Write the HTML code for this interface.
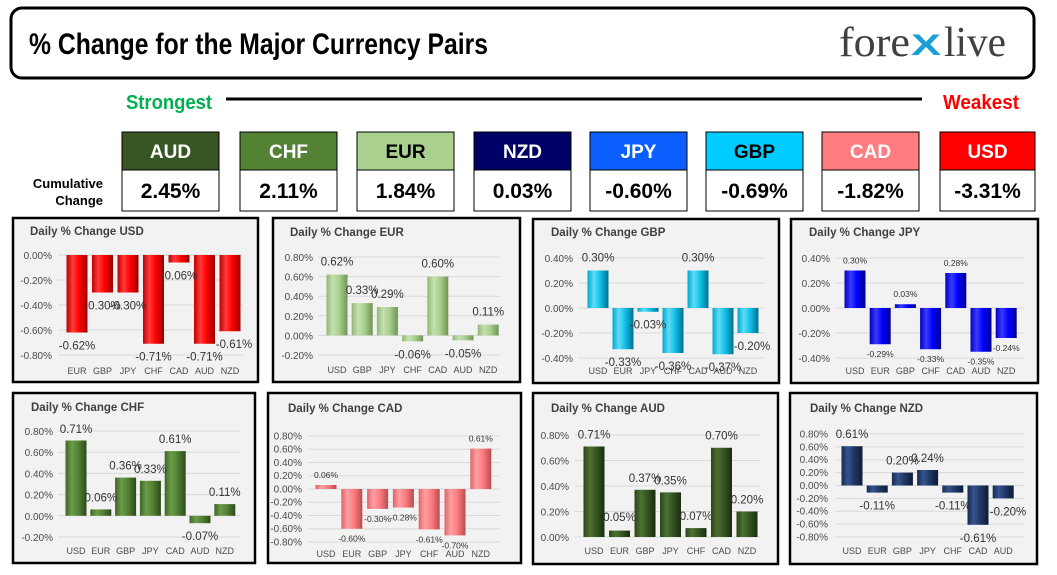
<!DOCTYPE html>
<html><head><meta charset="utf-8"><style>
html,body{margin:0;padding:0;background:#fff;}
svg{display:block;}
.t{font-family:"Liberation Sans Narrow","Liberation Sans",sans-serif;font-weight:bold;}
.tick{font-family:"Liberation Sans",sans-serif;font-size:10px;fill:#4a4a4a;text-anchor:end;}
.cat{font-family:"Liberation Sans",sans-serif;font-size:9px;fill:#4a4a4a;text-anchor:middle;}
.dl{font-family:"Liberation Sans",sans-serif;font-size:11.5px;fill:#333;text-anchor:middle;}
.ds{font-family:"Liberation Sans",sans-serif;font-size:8.5px;fill:#333;text-anchor:middle;}
.ttl{font-family:"Liberation Sans",sans-serif;font-size:11.5px;font-weight:bold;fill:#404040;}
.g{stroke:#d9d9d9;stroke-width:1;}
.pn{fill:#f2f2f2;stroke:#000;stroke-width:2.5;}
</style></head><body>
<svg width="1057" height="575" viewBox="0 0 1057 575" xmlns="http://www.w3.org/2000/svg">
<defs>
<linearGradient id="red" x1="0" x2="1"><stop offset="0" stop-color="#c00000"/><stop offset="0.3" stop-color="#ff3a3a"/><stop offset="0.6" stop-color="#ff0000"/><stop offset="1" stop-color="#9a0000"/></linearGradient>
<linearGradient id="lg" x1="0" x2="1"><stop offset="0" stop-color="#8fb872"/><stop offset="0.3" stop-color="#c5e0b0"/><stop offset="0.6" stop-color="#a9d08e"/><stop offset="1" stop-color="#6f9455"/></linearGradient>
<linearGradient id="cy" x1="0" x2="1"><stop offset="0" stop-color="#00a8d0"/><stop offset="0.3" stop-color="#60dcf6"/><stop offset="0.6" stop-color="#10c0e8"/><stop offset="1" stop-color="#00708c"/></linearGradient>
<linearGradient id="bl" x1="0" x2="1"><stop offset="0" stop-color="#0000c0"/><stop offset="0.3" stop-color="#3a3aff"/><stop offset="0.6" stop-color="#0000ff"/><stop offset="1" stop-color="#00008a"/></linearGradient>
<linearGradient id="mg" x1="0" x2="1"><stop offset="0" stop-color="#3e6526"/><stop offset="0.3" stop-color="#6a9c48"/><stop offset="0.6" stop-color="#548235"/><stop offset="1" stop-color="#2c4a1a"/></linearGradient>
<linearGradient id="pk" x1="0" x2="1"><stop offset="0" stop-color="#e06268"/><stop offset="0.3" stop-color="#ffa0a4"/><stop offset="0.6" stop-color="#ff7c80"/><stop offset="1" stop-color="#b84c50"/></linearGradient>
<linearGradient id="dg" x1="0" x2="1"><stop offset="0" stop-color="#2a4418"/><stop offset="0.3" stop-color="#4d7031"/><stop offset="0.6" stop-color="#375623"/><stop offset="1" stop-color="#1a2c0e"/></linearGradient>
<linearGradient id="nv" x1="0" x2="1"><stop offset="0" stop-color="#172a50"/><stop offset="0.3" stop-color="#35548e"/><stop offset="0.6" stop-color="#1f3864"/><stop offset="1" stop-color="#0e1a34"/></linearGradient>
</defs>

<!-- header -->
<rect x="11" y="8" width="1023" height="70" rx="11" fill="#fff" stroke="#000" stroke-width="3"/>
<text x="29" y="54" class="t" font-size="30" textLength="459" lengthAdjust="spacingAndGlyphs" fill="#000">% Change for the Major Currency Pairs</text>
<text x="839" y="56" font-family="'Liberation Serif',serif" font-size="42" fill="#404040" textLength="71" lengthAdjust="spacingAndGlyphs">fore</text>
<text x="911" y="55" font-family="'Liberation Sans',sans-serif" font-size="30" font-weight="bold" fill="#1a9fd6" textLength="30" lengthAdjust="spacingAndGlyphs">X</text>
<text x="944" y="56" font-family="'Liberation Serif',serif" font-size="42" fill="#404040" textLength="62" lengthAdjust="spacingAndGlyphs">live</text>

<text x="126" y="109" class="t" font-size="20" fill="#00b050" textLength="86" lengthAdjust="spacingAndGlyphs">Strongest</text>
<line x1="226" y1="99" x2="922" y2="99" stroke="#000" stroke-width="3"/>
<text x="943" y="109" class="t" font-size="20" fill="#ff0000" textLength="76" lengthAdjust="spacingAndGlyphs">Weakest</text>

<text x="103" y="188" class="t" font-size="13" text-anchor="end" fill="#000">Cumulative</text>
<text x="103" y="205" class="t" font-size="13" text-anchor="end" fill="#000">Change</text>

<g stroke="#000" stroke-width="1">
<rect x="122" y="132" width="97" height="38" fill="#375623"/><rect x="122" y="170" width="97" height="41" fill="#fff"/>
<rect x="240" y="132" width="97" height="38" fill="#548235"/><rect x="240" y="170" width="97" height="41" fill="#fff"/>
<rect x="357" y="132" width="97" height="38" fill="#a9d08e"/><rect x="357" y="170" width="97" height="41" fill="#fff"/>
<rect x="474" y="132" width="97" height="38" fill="#000066"/><rect x="474" y="170" width="97" height="41" fill="#fff"/>
<rect x="590" y="132" width="97" height="38" fill="#0b5fff"/><rect x="590" y="170" width="97" height="41" fill="#fff"/>
<rect x="706" y="132" width="97" height="38" fill="#00ccff"/><rect x="706" y="170" width="97" height="41" fill="#fff"/>
<rect x="822" y="132" width="97" height="38" fill="#ff7c80"/><rect x="822" y="170" width="97" height="41" fill="#fff"/>
<rect x="940" y="132" width="95" height="38" fill="#ff0000"/><rect x="940" y="170" width="95" height="41" fill="#fff"/>
</g>
<g class="t" font-size="19" text-anchor="middle">
<text x="170.5" y="158" fill="#fff">AUD</text><text x="288.5" y="158" fill="#fff">CHF</text><text x="405.5" y="158" fill="#000">EUR</text><text x="522.5" y="158" fill="#fff">NZD</text>
<text x="638.5" y="158" fill="#fff">JPY</text><text x="754.5" y="158" fill="#000">GBP</text><text x="870.5" y="158" fill="#fff">CAD</text><text x="987.5" y="158" fill="#fff">USD</text>
</g>
<g class="t" font-size="21" text-anchor="middle" fill="#000">
<text x="170.5" y="198">2.45%</text><text x="288.5" y="198">2.11%</text><text x="405.5" y="198">1.84%</text><text x="522.5" y="198">0.03%</text>
<text x="638.5" y="198">-0.60%</text><text x="754.5" y="198">-0.69%</text><text x="870.5" y="198">-1.82%</text><text x="987.5" y="198">-3.31%</text>
</g>

<!-- Chart 1 USD -->
<rect class="pn" x="13" y="218" width="245" height="164"/>
<text class="ttl" x="30" y="235">Daily % Change USD</text>
<g class="g"><line x1="58" x2="243" y1="255" y2="255"/><line x1="58" x2="243" y1="280" y2="280"/><line x1="58" x2="243" y1="305" y2="305"/><line x1="58" x2="243" y1="330" y2="330"/><line x1="58" x2="243" y1="355" y2="355"/></g>
<text class="tick" x="52" y="259">0.00%</text><text class="tick" x="52" y="284">-0.20%</text><text class="tick" x="52" y="309">-0.40%</text><text class="tick" x="52" y="334">-0.60%</text><text class="tick" x="52" y="359">-0.80%</text>
<g fill="url(#red)"><rect x="66.5" y="255" width="21" height="77.5"/><rect x="92" y="255" width="21" height="37.5"/><rect x="117.5" y="255" width="21" height="37.5"/><rect x="143" y="255" width="21" height="88.75"/><rect x="168.5" y="255" width="21" height="7.5"/><rect x="194" y="255" width="21" height="88.75"/><rect x="219.5" y="255" width="21" height="76.25"/></g>
<text class="dl" x="77" y="349.5">-0.62%</text><text class="dl" x="102.5" y="309.5">-0.30%</text><text class="dl" x="128" y="309.5">-0.30%</text><text class="dl" x="153.5" y="360.7">-0.71%</text><text class="dl" x="179" y="279.5">-0.06%</text><text class="dl" x="204.5" y="360.7">-0.71%</text><text class="dl" x="234" y="348.2">-0.61%</text>
<text class="cat" x="77" y="374">EUR</text><text class="cat" x="102.5" y="374">GBP</text><text class="cat" x="128" y="374">JPY</text><text class="cat" x="153.5" y="374">CHF</text><text class="cat" x="179" y="374">CAD</text><text class="cat" x="204.5" y="374">AUD</text><text class="cat" x="230" y="374">NZD</text>

<!-- Chart 2 EUR -->
<rect class="pn" x="273" y="218" width="247" height="164"/>
<text class="ttl" x="290" y="236">Daily % Change EUR</text>
<g class="g"><line x1="318" x2="500" y1="257" y2="257"/><line x1="318" x2="500" y1="276.6" y2="276.6"/><line x1="318" x2="500" y1="296.2" y2="296.2"/><line x1="318" x2="500" y1="315.8" y2="315.8"/><line x1="318" x2="500" y1="335.4" y2="335.4"/><line x1="318" x2="500" y1="355" y2="355"/></g>
<text class="tick" x="313" y="261">0.80%</text><text class="tick" x="313" y="280.6">0.60%</text><text class="tick" x="313" y="300.2">0.40%</text><text class="tick" x="313" y="319.8">0.20%</text><text class="tick" x="313" y="339.4">0.00%</text><text class="tick" x="313" y="359">-0.20%</text>
<g fill="url(#lg)"><rect x="326.5" y="274.6" width="21" height="60.8"/><rect x="351.7" y="303.1" width="21" height="32.3"/><rect x="376.9" y="307" width="21" height="28.4"/><rect x="402.1" y="335.4" width="21" height="5.9"/><rect x="427.3" y="276.6" width="21" height="58.8"/><rect x="452.5" y="335.4" width="21" height="4.9"/><rect x="477.7" y="324.6" width="21" height="10.8"/></g>
<text class="dl" x="337" y="265.6">0.62%</text><text class="dl" x="362.2" y="294.1">0.33%</text><text class="dl" x="387.4" y="298">0.29%</text><text class="dl" x="412.6" y="358.3">-0.06%</text><text class="dl" x="437.8" y="267.6">0.60%</text><text class="dl" x="463" y="357.3">-0.05%</text><text class="dl" x="488.2" y="315.6">0.11%</text>
<text class="cat" x="337" y="373">USD</text><text class="cat" x="362.2" y="373">GBP</text><text class="cat" x="387.4" y="373">JPY</text><text class="cat" x="412.6" y="373">CHF</text><text class="cat" x="437.8" y="373">CAD</text><text class="cat" x="463" y="373">AUD</text><text class="cat" x="488.2" y="373">NZD</text>

<!-- Chart 3 GBP -->
<rect class="pn" x="533" y="219" width="246" height="164"/>
<text class="ttl" x="551" y="236">Daily % Change GBP</text>
<g class="g"><line x1="578" x2="765" y1="258" y2="258"/><line x1="578" x2="765" y1="283" y2="283"/><line x1="578" x2="765" y1="308" y2="308"/><line x1="578" x2="765" y1="333" y2="333"/><line x1="578" x2="765" y1="358" y2="358"/></g>
<text class="tick" x="573" y="262">0.40%</text><text class="tick" x="573" y="287">0.20%</text><text class="tick" x="573" y="312">0.00%</text><text class="tick" x="573" y="337">-0.20%</text><text class="tick" x="573" y="362">-0.40%</text>
<g fill="url(#cy)"><rect x="587.5" y="270.5" width="21" height="37.5"/><rect x="612.5" y="308" width="21" height="41.25"/><rect x="637.5" y="308" width="21" height="3.75"/><rect x="662.5" y="308" width="21" height="45"/><rect x="687.5" y="270.5" width="21" height="37.5"/><rect x="712.5" y="308" width="21" height="46.25"/><rect x="737.5" y="308" width="21" height="25"/></g>
<text class="cat" x="598" y="374">USD</text><text class="cat" x="623" y="374">EUR</text><text class="cat" x="648" y="374">JPY</text><text class="cat" x="673" y="374">CHF</text><text class="cat" x="698" y="374">CAD</text><text class="cat" x="723" y="374">AUD</text><text class="cat" x="748" y="374">NZD</text>
<text class="dl" x="598" y="261.5">0.30%</text><text class="dl" x="623" y="366.2">-0.33%</text><text class="dl" x="648" y="328.7">-0.03%</text><text class="dl" x="673" y="370">-0.36%</text><text class="dl" x="698" y="261.5">0.30%</text><text class="dl" x="723" y="371.2">-0.37%</text><text class="dl" x="752" y="350">-0.20%</text>

<!-- Chart 4 JPY -->
<rect class="pn" x="791" y="219" width="247" height="164"/>
<text class="ttl" x="809" y="236">Daily % Change JPY</text>
<g class="g"><line x1="835" x2="1025" y1="258" y2="258"/><line x1="835" x2="1025" y1="283" y2="283"/><line x1="835" x2="1025" y1="308" y2="308"/><line x1="835" x2="1025" y1="333" y2="333"/><line x1="835" x2="1025" y1="358" y2="358"/></g>
<text class="tick" x="830" y="262">0.40%</text><text class="tick" x="830" y="287">0.20%</text><text class="tick" x="830" y="312">0.00%</text><text class="tick" x="830" y="337">-0.20%</text><text class="tick" x="830" y="362">-0.40%</text>
<g fill="url(#bl)"><rect x="844.5" y="270.5" width="21" height="37.5"/><rect x="869.7" y="308" width="21" height="36.25"/><rect x="894.9" y="304.25" width="21" height="3.75"/><rect x="920.1" y="308" width="21" height="41.25"/><rect x="945.3" y="273" width="21" height="35"/><rect x="970.5" y="308" width="21" height="43.75"/><rect x="995.7" y="308" width="21" height="30"/></g>
<text class="ds" x="855" y="263.5">0.30%</text><text class="ds" x="880.2" y="357.2">-0.29%</text><text class="ds" x="905.4" y="297.2">0.03%</text><text class="ds" x="930.6" y="362.2">-0.33%</text><text class="ds" x="955.8" y="266">0.28%</text><text class="ds" x="981" y="364.7">-0.35%</text><text class="ds" x="1006.2" y="351">-0.24%</text>
<text class="cat" x="855" y="374">USD</text><text class="cat" x="880.2" y="374">EUR</text><text class="cat" x="905.4" y="374">GBP</text><text class="cat" x="930.6" y="374">CHF</text><text class="cat" x="955.8" y="374">CAD</text><text class="cat" x="981" y="374">AUD</text><text class="cat" x="1006.2" y="374">NZD</text>

<!-- Chart 5 CHF -->
<rect class="pn" x="13" y="393" width="242" height="170"/>
<text class="ttl" x="31" y="411">Daily % Change CHF</text>
<g class="g"><line x1="58" x2="240" y1="431" y2="431"/><line x1="58" x2="240" y1="452.2" y2="452.2"/><line x1="58" x2="240" y1="473.4" y2="473.4"/><line x1="58" x2="240" y1="494.6" y2="494.6"/><line x1="58" x2="240" y1="515.8" y2="515.8"/><line x1="58" x2="240" y1="537" y2="537"/></g>
<text class="tick" x="53" y="435">0.80%</text><text class="tick" x="53" y="456.2">0.60%</text><text class="tick" x="53" y="477.4">0.40%</text><text class="tick" x="53" y="498.6">0.20%</text><text class="tick" x="53" y="519.8">0.00%</text><text class="tick" x="53" y="541">-0.20%</text>
<g fill="url(#mg)"><rect x="65.5" y="440.5" width="21" height="75.3"/><rect x="90.3" y="509.4" width="21" height="6.4"/><rect x="115.1" y="477.6" width="21" height="38.2"/><rect x="139.9" y="480.8" width="21" height="35"/><rect x="164.7" y="451.1" width="21" height="64.7"/><rect x="189.5" y="515.8" width="21" height="7.4"/><rect x="214.3" y="504.1" width="21" height="11.7"/></g>
<text class="dl" x="76" y="433">0.71%</text><text class="dl" x="100.8" y="501.4">0.06%</text><text class="dl" x="125.6" y="469.6">0.36%</text><text class="dl" x="150.4" y="472.8">0.33%</text><text class="dl" x="175.2" y="443.1">0.61%</text><text class="dl" x="200" y="540.2">-0.07%</text><text class="dl" x="224.8" y="496.1">0.11%</text>
<text class="cat" x="76" y="554">USD</text><text class="cat" x="100.8" y="554">EUR</text><text class="cat" x="125.6" y="554">GBP</text><text class="cat" x="150.4" y="554">JPY</text><text class="cat" x="175.2" y="554">CAD</text><text class="cat" x="200" y="554">AUD</text><text class="cat" x="224.8" y="554">NZD</text>

<!-- Chart 6 CAD -->
<rect class="pn" x="268" y="393" width="253" height="170"/>
<text class="ttl" x="288" y="412">Daily % Change CAD</text>
<g class="g"><line x1="308" x2="500" y1="436" y2="436"/><line x1="308" x2="500" y1="449.25" y2="449.25"/><line x1="308" x2="500" y1="462.5" y2="462.5"/><line x1="308" x2="500" y1="475.75" y2="475.75"/><line x1="308" x2="500" y1="489" y2="489"/><line x1="308" x2="500" y1="502.25" y2="502.25"/><line x1="308" x2="500" y1="515.5" y2="515.5"/><line x1="308" x2="500" y1="528.75" y2="528.75"/><line x1="308" x2="500" y1="542" y2="542"/></g>
<g style="font-size:9.5px"><text class="tick" x="302" y="439.5">0.80%</text><text class="tick" x="302" y="452.7">0.60%</text><text class="tick" x="302" y="466">0.40%</text><text class="tick" x="302" y="479.2">0.20%</text><text class="tick" x="302" y="492.5">0.00%</text><text class="tick" x="302" y="505.7">-0.20%</text><text class="tick" x="302" y="519">-0.40%</text><text class="tick" x="302" y="532.2">-0.60%</text><text class="tick" x="302" y="545.5">-0.80%</text></g>
<g fill="url(#pk)"><rect x="315.5" y="485" width="21" height="4"/><rect x="341.3" y="489" width="21" height="39.75"/><rect x="367.1" y="489" width="21" height="19.9"/><rect x="392.9" y="489" width="21" height="18.55"/><rect x="418.7" y="489" width="21" height="40.4"/><rect x="444.5" y="489" width="21" height="46.4"/><rect x="470.3" y="448.6" width="21" height="40.4"/></g>
<text class="ds" x="326" y="478">0.06%</text><text class="ds" x="351.8" y="541.7">-0.60%</text><text class="ds" x="377.6" y="521.9">-0.30%</text><text class="ds" x="403.4" y="520.6">-0.28%</text><text class="ds" x="429.2" y="542.4">-0.61%</text><text class="ds" x="455" y="548.4">-0.70%</text><text class="ds" x="480.8" y="441.6">0.61%</text>
<text class="cat" x="326" y="557">USD</text><text class="cat" x="351.8" y="557">EUR</text><text class="cat" x="377.6" y="557">GBP</text><text class="cat" x="403.4" y="557">JPY</text><text class="cat" x="429.2" y="557">CHF</text><text class="cat" x="455" y="557">AUD</text><text class="cat" x="480.8" y="557">NZD</text>

<!-- Chart 7 AUD -->
<rect class="pn" x="533" y="393" width="245" height="171"/>
<text class="ttl" x="551" y="412">Daily % Change AUD</text>
<g class="g"><line x1="575" x2="760" y1="435" y2="435"/><line x1="575" x2="760" y1="460.5" y2="460.5"/><line x1="575" x2="760" y1="486" y2="486"/><line x1="575" x2="760" y1="511.5" y2="511.5"/><line x1="575" x2="760" y1="537" y2="537"/></g>
<text class="tick" x="569" y="439">0.80%</text><text class="tick" x="569" y="464.5">0.60%</text><text class="tick" x="569" y="490">0.40%</text><text class="tick" x="569" y="515.5">0.20%</text><text class="tick" x="569" y="541">0.00%</text>
<g fill="url(#dg)"><rect x="583.5" y="446.5" width="21" height="90.5"/><rect x="609" y="530.6" width="21" height="6.4"/><rect x="634.5" y="489.8" width="21" height="47.2"/><rect x="660" y="492.4" width="21" height="44.6"/><rect x="685.5" y="528.1" width="21" height="8.9"/><rect x="711" y="447.75" width="21" height="89.25"/><rect x="736.5" y="511.5" width="21" height="25.5"/></g>
<text class="dl" x="594" y="438.5">0.71%</text><text class="dl" x="619.5" y="521">0.05%</text><text class="dl" x="645" y="481.8">0.37%</text><text class="dl" x="670.5" y="484.4">0.35%</text><text class="dl" x="696" y="520.1">0.07%</text><text class="dl" x="721.5" y="439.7">0.70%</text><text class="dl" x="747" y="503.5">0.20%</text>
<text class="cat" x="594" y="554">USD</text><text class="cat" x="619.5" y="554">EUR</text><text class="cat" x="645" y="554">GBP</text><text class="cat" x="670.5" y="554">JPY</text><text class="cat" x="696" y="554">CHF</text><text class="cat" x="721.5" y="554">CAD</text><text class="cat" x="747" y="554">NZD</text>

<!-- Chart 8 NZD -->
<rect class="pn" x="790" y="393" width="247" height="171"/>
<text class="ttl" x="810" y="412">Daily % Change NZD</text>
<g class="g"><line x1="835" x2="1025" y1="434" y2="434"/><line x1="835" x2="1025" y1="446.9" y2="446.9"/><line x1="835" x2="1025" y1="459.75" y2="459.75"/><line x1="835" x2="1025" y1="472.6" y2="472.6"/><line x1="835" x2="1025" y1="485.5" y2="485.5"/><line x1="835" x2="1025" y1="498.4" y2="498.4"/><line x1="835" x2="1025" y1="511.25" y2="511.25"/><line x1="835" x2="1025" y1="524.1" y2="524.1"/><line x1="835" x2="1025" y1="537" y2="537"/></g>
<g style="font-size:9.5px"><text class="tick" x="828" y="437.5">0.80%</text><text class="tick" x="828" y="450.4">0.60%</text><text class="tick" x="828" y="463.2">0.40%</text><text class="tick" x="828" y="476.1">0.20%</text><text class="tick" x="828" y="489">0.00%</text><text class="tick" x="828" y="501.9">-0.20%</text><text class="tick" x="828" y="514.7">-0.40%</text><text class="tick" x="828" y="527.6">-0.60%</text><text class="tick" x="828" y="540.5">-0.80%</text></g>
<g fill="url(#nv)"><rect x="841.5" y="446.2" width="21" height="39.3"/><rect x="866.7" y="485.5" width="21" height="7.1"/><rect x="891.9" y="472.6" width="21" height="12.9"/><rect x="917.1" y="470" width="21" height="15.5"/><rect x="942.3" y="485.5" width="21" height="7.1"/><rect x="967.5" y="485.5" width="21" height="39.3"/><rect x="992.7" y="485.5" width="21" height="12.9"/></g>
<text class="dl" x="852" y="438.2">0.61%</text><text class="dl" x="877.2" y="509.6">-0.11%</text><text class="dl" x="902.4" y="464.6">0.20%</text><text class="dl" x="927.6" y="462">0.24%</text><text class="dl" x="952.8" y="509.6">-0.11%</text><text class="dl" x="978" y="541.8">-0.61%</text><text class="dl" x="1008" y="515.4">-0.20%</text>
<text class="cat" x="852" y="554">USD</text><text class="cat" x="877.2" y="554">EUR</text><text class="cat" x="902.4" y="554">GBP</text><text class="cat" x="927.6" y="554">JPY</text><text class="cat" x="952.8" y="554">CHF</text><text class="cat" x="978" y="554">CAD</text><text class="cat" x="1003.2" y="554">AUD</text>
</svg>
</body></html>
